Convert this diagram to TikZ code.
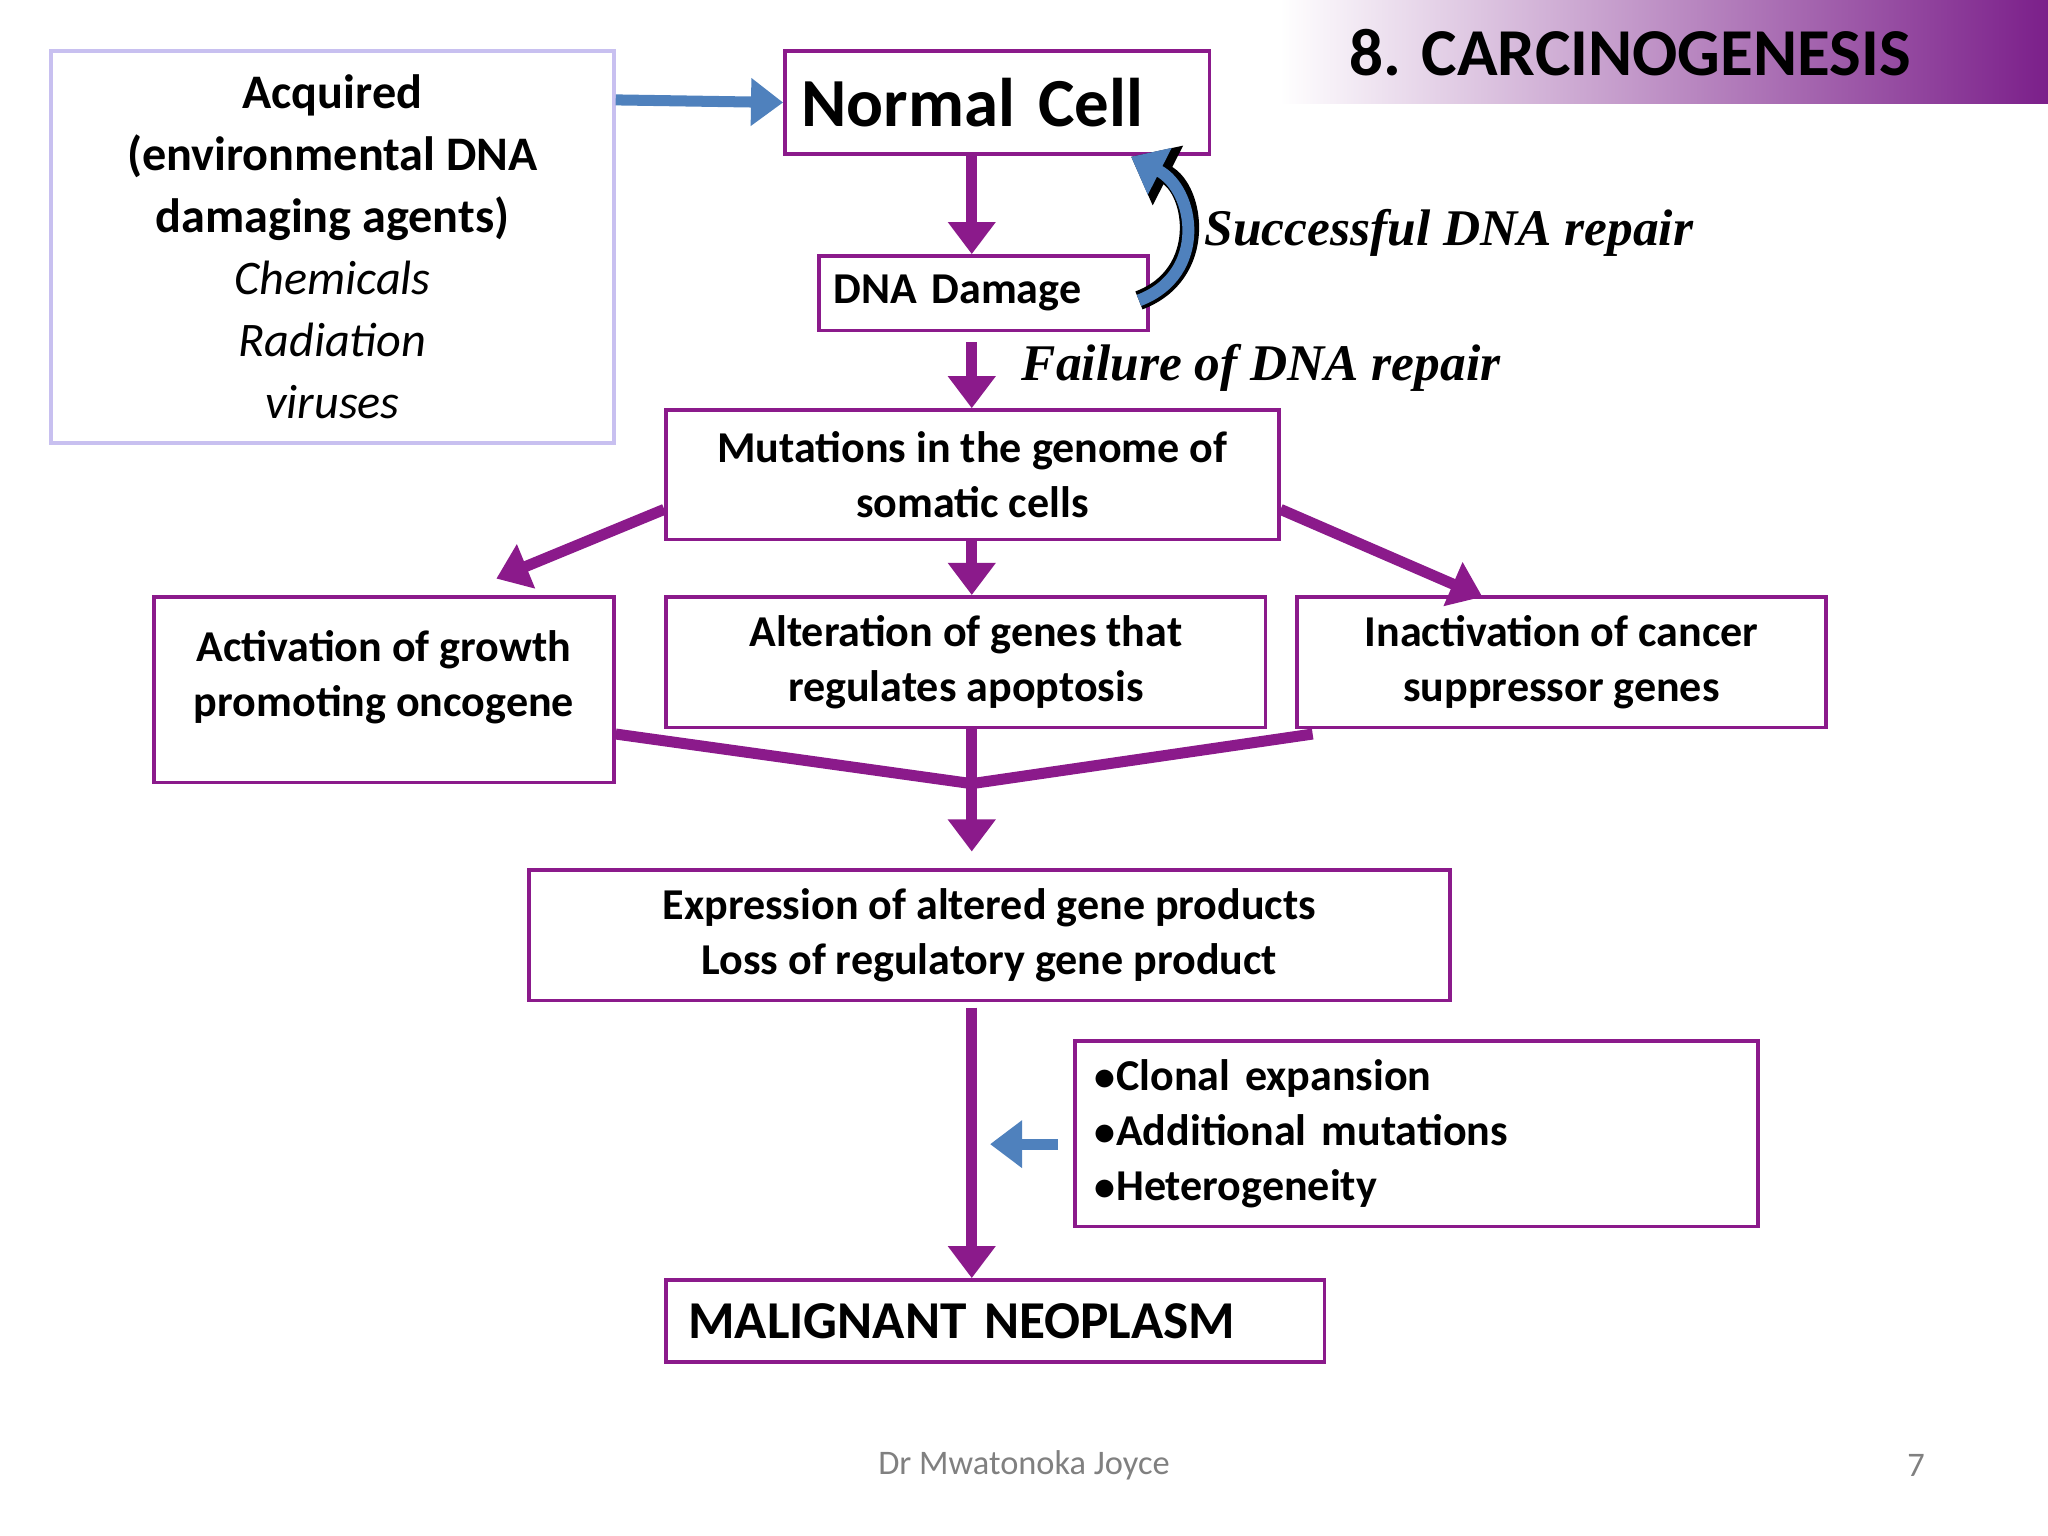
\documentclass[tikz,border=0pt]{standalone}
\usepackage{fontspec}
\setmainfont{Carlito}
\newfontfamily\serifit{Liberation Serif}
\usetikzlibrary{arrows.meta}
\definecolor{plum}{HTML}{8B1A8B}
\definecolor{steel}{HTML}{4F81BD}
\definecolor{lav}{HTML}{C8C0F0}
\definecolor{hdr}{HTML}{7B1F8A}
\begin{document}
\begin{tikzpicture}[
    box/.style = {draw=plum, line width=0.8pt, fill=white, align=center, font=\bfseries\fontsize{9.6}{12}\selectfont, inner sep=0pt},
    flow/.style = {draw=plum, line width=2.4pt, -{Triangle[length=7pt, width=10pt]}},
    feed/.style = {draw=steel, line width=2.4pt, -{Triangle[length=7pt, width=10pt]}},
    note/.style = {font=\serifit\bfseries\itshape\fontsize{11.2}{13}\selectfont, anchor=west}]

    \useasboundingbox (0,0) rectangle (15.68,-11.76);
    \shade[left color=white, right color=hdr] (9.8,0) rectangle (15.68,-0.79);
    \node[font=\bfseries\fontsize{14.6}{17}\selectfont] (title) at (12.48,-0.4) {8. CARCINOGENESIS};

    \node[box, draw=lav, minimum width=4.31cm, minimum height=3cm, font=\fontsize{10.5}{13.5}\selectfont] (acq) at (2.545,-1.89)
        {\textbf{Acquired}\\\textbf{(environmental DNA}\\\textbf{damaging agents)}\\\textit{Chemicals}\\\textit{Radiation}\\\textit{viruses}};
    \node[box, minimum width=3.25cm, minimum height=0.79cm, text width=3.0cm, align=left, font=\bfseries\fontsize{15}{18}\selectfont] (normal) at (7.635,-0.785) {Normal Cell};
    \node[box, minimum width=2.52cm, minimum height=0.57cm, text width=2.3cm, align=left] (dna) at (7.53,-2.245) {DNA Damage};
    \node[box, minimum width=4.69cm, minimum height=0.99cm] (mut) at (7.445,-3.635) {Mutations in the genome of\\somatic cells};
    \node[box, minimum width=3.52cm, minimum height=1.42cm] (act) at (2.94,-5.28) {Activation of growth\\promoting oncogene\\[-0.3cm] \strut};
    \node[box, minimum width=4.59cm, minimum height=1cm] (alt) at (7.395,-5.07) {Alteration of genes that\\regulates apoptosis};
    \node[box, minimum width=4.05cm, minimum height=1cm] (inact) at (11.955,-5.07) {Inactivation of cancer\\suppressor genes};
    \node[box, minimum width=7.05cm, minimum height=1cm] (expr) at (7.575,-7.16) {Expression of altered gene products\\Loss of regulatory gene product};
    \node[box, minimum width=5.23cm, minimum height=1.42cm, text width=4.95cm, align=left] (clon) at (10.845,-8.68)
        {$\bullet$Clonal expansion\\$\bullet$Additional mutations\\$\bullet$Heterogeneity};
    \node[box, minimum width=5.04cm, minimum height=0.63cm, text width=4.7cm, align=left, font=\bfseries\fontsize{11.6}{14}\selectfont] (mal) at (7.62,-10.115) {MALIGNANT NEOPLASM};

    \coordinate (dnaout) at (7.44,-2.62);
    \coordinate (leftend) at (3.8,-4.43);
    \coordinate (rightend) at (11.35,-4.57);
    \coordinate (joint) at (7.44,-6.0);
    \coordinate (jointend) at (7.44,-6.52);
    \coordinate (side) at (8.1,-8.76);
    \coordinate (sideend) at (7.58,-8.76);
    \coordinate (loopin) at (8.72,-2.3);
    \coordinate (loopout) at (8.66,-1.2);

    \draw[feed] (acq.east |- normal) ++(0,0.02) -- (normal.west);
    \draw[flow] (normal.south -| dnaout) -- (dna.north -| dnaout);
    \draw[flow] (dnaout) -- (mut.north -| dnaout);
    \draw[flow] (mut.west |- 0,-3.9) -- (leftend);
    \draw[flow] (mut.south -| dnaout) -- (alt.north -| dnaout);
    \draw[flow] (mut.east |- 0,-3.9) -- (rightend);
    \draw[plum, line width=2.4pt] (act.east |- 0,-5.62) -- (joint) -- (10.05,-5.62);
    \draw[flow] (alt.south -| joint) -- (jointend);
    \draw[flow] (expr.south -| joint) ++(0,-0.04) -- (mal.north -| joint);
    \draw[feed] (side) -- (sideend);
    \draw[line width=4.2pt, -{Triangle[length=9pt, width=14pt]}] (loopin) .. controls (9.25,-2.1) and (9.15,-1.45) .. (loopout);
    \draw[steel, line width=2.6pt, -{Triangle[length=7pt, width=11pt]}] (loopin) .. controls (9.25,-2.1) and (9.15,-1.45) .. (loopout);

    \node[note] (ok) at (9.1,-1.78) {Successful DNA repair};
    \node[note] (fail) at (7.7,-2.82) {Failure of DNA repair};

    \node[text=gray, font=\fontsize{7.5}{9}\selectfont] (author) at (7.84,-11.22) {Dr Mwatonoka Joyce};
    \node[text=gray, font=\fontsize{7.5}{9}\selectfont] (page) at (14.67,-11.22) {7};

\end{tikzpicture}
\end{document}
